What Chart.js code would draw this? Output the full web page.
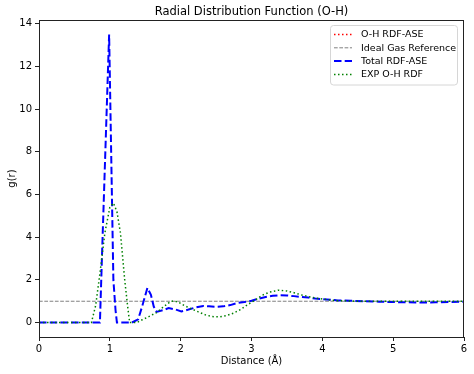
<!DOCTYPE html>
<html>
<head>
<meta charset="utf-8">
<script src="https://cdn.jsdelivr.net/npm/chart.js@4.4.1/dist/chart.umd.min.js"></script>
<style>
  html, body { margin: 0; padding: 0; background: #fff; }
  #wrap { width: 474px; height: 374px; }
</style>
</head>
<body>
<div id="wrap"><canvas id="rdfChart" width="474" height="374"></canvas></div>
<script>
// Datos
const distTotal = [0, 0.86, 0.89, 0.99, 1.05, 1.08, 1.1, 1.31, 1.4, 1.46, 1.53, 1.58, 1.62, 1.66, 1.75, 1.83, 1.92, 2.01, 2.1, 2.2, 2.32, 2.4, 2.51, 2.6, 2.7, 2.8, 2.9, 3.0, 3.1, 3.2, 3.3, 3.4, 3.5, 3.6, 3.7, 3.8, 3.9, 4.0, 4.2, 4.4, 4.6, 4.8, 5.0, 5.2, 5.4, 5.6, 5.8, 6.0];
const gTotal = [0, 0, 3.2, 13.5, 2.0, 0.6, 0, 0, 0.15, 0.8, 1.62, 1.3, 0.75, 0.5, 0.58, 0.68, 0.62, 0.52, 0.6, 0.7, 0.78, 0.76, 0.74, 0.76, 0.82, 0.92, 0.96, 1.02, 1.12, 1.2, 1.26, 1.28, 1.27, 1.24, 1.2, 1.17, 1.13, 1.1, 1.05, 1.02, 1.0, 0.98, 0.96, 0.95, 0.94, 0.95, 0.96, 0.98];

// La serie O-H RDF-ASE no se ve en la imagen (solo aparece en la leyenda)
const distOH = [];
const gOH = [];

const distExp = [0, 0.74, 0.8, 0.86, 0.93, 1.0, 1.05, 1.1, 1.15, 1.21, 1.25, 1.28, 1.38, 1.45, 1.55, 1.66, 1.75, 1.85, 1.9, 1.97, 2.05, 2.15, 2.25, 2.35, 2.45, 2.55, 2.65, 2.75, 2.85, 2.95, 3.05, 3.15, 3.25, 3.38, 3.5, 3.6, 3.7, 3.83, 4.0, 4.2, 4.5, 5.0, 5.5, 6.0];
const gExp = [0, 0, 0.8, 2.3, 4.2, 5.4, 5.6, 5.2, 4.2, 2.0, 0.8, 0, 0, 0.12, 0.28, 0.47, 0.72, 0.97, 1.02, 0.95, 0.8, 0.65, 0.5, 0.36, 0.28, 0.27, 0.33, 0.45, 0.62, 0.85, 1.05, 1.28, 1.42, 1.52, 1.48, 1.4, 1.3, 1.2, 1.1, 1.03, 1.0, 1.0, 1.0, 1.0];

const distIdeal = [0, 6];
const gIdeal = [1, 1];

const xTicks = [0, 1, 2, 3, 4, 5, 6];
const yTicks = [0, 2, 4, 6, 8, 10, 12, 14];

const seriesLabels = ['O-H RDF-ASE', 'Ideal Gas Reference', 'Total RDF-ASE', 'EXP O-H RDF'];

const FONT = 'DejaVu Sans';

function toPoints(xs, ys) {
    return xs.map((x, i) => ({ x: x, y: ys[i] }));
}

// Marco completo de los ejes (estilo matplotlib)
const framePlugin = {
    id: 'frame',
    afterDatasetsDraw(chart) {
        const a = chart.chartArea;
        const ctx = chart.ctx;
        ctx.save();
        ctx.strokeStyle = '#222';
        ctx.lineWidth = 1;
        ctx.strokeRect(a.left + 0.5, a.top + 0.5, a.right - a.left - 1, a.bottom - a.top);
        ctx.restore();
    }
};

// Leyenda dentro del área del gráfico
const legendPlugin = {
    id: 'insideLegend',
    afterDraw(chart) {
        const ctx = chart.ctx;
        const x0 = 330.5, y0 = 25.5, w = 127, h = 59.5;
        ctx.save();
        ctx.fillStyle = 'rgba(255,255,255,0.85)';
        ctx.strokeStyle = '#d6d6d6';
        ctx.lineWidth = 1;
        ctx.beginPath();
        ctx.roundRect(x0, y0, w, h, 3);
        ctx.fill();
        ctx.stroke();

        const ds = chart.data.datasets;
        ctx.font = '9.5px "' + FONT + '"';
        ctx.textBaseline = 'middle';
        ctx.fillStyle = '#000';
        seriesLabels.forEach((label, i) => {
            const y = 34.5 + i * 13.3;
            const d = ds[i];
            ctx.beginPath();
            ctx.setLineDash(d.borderDash || []);
            ctx.strokeStyle = d.borderColor;
            ctx.lineWidth = d.borderWidth;
            ctx.moveTo(334, y);
            ctx.lineTo(352, y);
            ctx.stroke();
            ctx.setLineDash([]);
            ctx.fillText(label, 361, y + 0.5);
        });
        ctx.restore();
    }
};

new Chart(document.getElementById('rdfChart'), {
    type: 'line',
    data: {
        datasets: [{
            label: seriesLabels[0],
            data: toPoints(distOH, gOH),
            borderColor: '#ff0000',
            borderWidth: 1.5,
            borderDash: [1.5, 2.5],
            order: 4
        }, {
            label: seriesLabels[1],
            data: toPoints(distIdeal, gIdeal),
            borderColor: '#808080',
            borderWidth: 1,
            borderDash: [3.7, 1.6],
            order: 3
        }, {
            label: seriesLabels[2],
            data: toPoints(distTotal, gTotal),
            borderColor: '#0000ff',
            borderWidth: 2,
            borderDash: [7.5, 3.2],
            order: 2
        }, {
            label: seriesLabels[3],
            data: toPoints(distExp, gExp),
            borderColor: '#008000',
            borderWidth: 1.5,
            borderDash: [1.5, 2.5],
            order: 1
        }]
    },
    options: {
        responsive: false,
        animation: false,
        layout: { padding: { left: 0, right: 10, top: 0, bottom: 0 } },
        elements: {
            point: { radius: 0 },
            line: { tension: 0, fill: false, borderCapStyle: 'butt' }
        },
        plugins: {
            legend: { display: false },
            tooltip: { enabled: false },
            title: {
                display: true,
                text: 'Radial Distribution Function (O-H)',
                fullSize: false,
                color: '#000',
                font: { family: FONT, size: 11.5, weight: 'normal' },
                padding: { top: 5, bottom: 1.2 }
            }
        },
        scales: {
            x: {
                type: 'linear',
                min: 0,
                max: 6,
                afterBuildTicks: s => { s.ticks = xTicks.map(v => ({ value: v })); },
                afterFit: s => { s.height = 37; },
                grid: { drawOnChartArea: false, color: '#222', tickLength: 4 },
                border: { color: '#222' },
                ticks: { color: '#000', font: { family: FONT, size: 10 }, padding: 2, maxRotation: 0 },
                title: {
                    display: true,
                    text: 'Distance (Å)',
                    color: '#000',
                    font: { family: FONT, size: 10 },
                    padding: { top: 0, bottom: 7 }
                }
            },
            y: {
                type: 'linear',
                min: -0.675,
                max: 14.175,
                afterBuildTicks: s => { s.ticks = yTicks.map(v => ({ value: v })); },
                afterFit: s => { s.width = 39; },
                grid: { drawOnChartArea: false, color: '#222', tickLength: 4 },
                border: { color: '#222' },
                ticks: { color: '#000', font: { family: FONT, size: 10 }, padding: 3 },
                title: {
                    display: true,
                    text: 'g(r)',
                    color: '#000',
                    font: { family: FONT, size: 10 },
                    padding: { top: 6, bottom: 0 }
                }
            }
        }
    },
    plugins: [framePlugin, legendPlugin]
});
</script>
</body>
</html>
